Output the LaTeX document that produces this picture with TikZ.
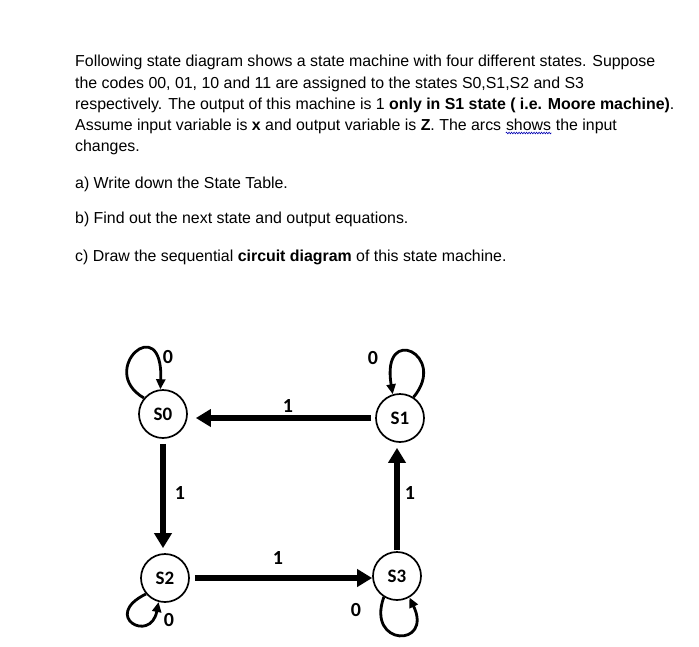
\documentclass[tikz,border=0pt]{standalone}
\usepackage{fontspec}
\setmainfont{Liberation Sans}
\newfontfamily\diafont{Carlito}
\usetikzlibrary{arrows.meta,decorations.pathmorphing}
\begin{document}
\begin{tikzpicture}[x=1pt,y=1pt,
  txt/.style={anchor=base west,inner sep=0pt,font=\fontsize{15.9}{18}\selectfont},
  state/.style={circle,draw,line width=1.7pt,minimum size=48pt,inner sep=0pt,font=\diafont\bfseries\fontsize{19}{21}\selectfont},
  lbl/.style={inner sep=0pt,font=\diafont\bfseries\fontsize{20}{22}\selectfont},
  bigarrow/.style={line width=6.2pt,-{Triangle[length=15pt,width=17pt]}},
  loopline/.style={line width=2.8pt,-{Triangle[length=10pt,width=9pt]}}]
\useasboundingbox (0,0) rectangle (699,-646);
% text
\node[txt] (l1) at (75,-66) {Following state diagram shows a state machine with four different states. Suppose};
\node[txt] (l2) at (75,-88) {the codes 00, 01, 10 and 11 are assigned to the states S0,S1,S2 and S3};
\node[txt] (l3) at (75,-109) {respectively. The output of this machine is 1 \textbf{only in S1 state ( i.e. Moore machine)}.};
\node[txt] (l4a) at (75,-130) {Assume input variable is \textbf{x} and output variable is \textbf{Z}. The arcs\ \mbox{}};
\node[txt] (l4b) at (l4a.base east) {shows};
\node[txt] (l4c) at (l4b.base east) {\ the input};
\node[txt] (l5) at (75,-151) {changes.};
\node[txt] (qa) at (75,-188) {a) Write down the State Table.};
\node[txt] (qb) at (75,-223) {b) Find out the next state and output equations.};
\node[txt] (qc) at (75,-261) {c) Draw the sequential \textbf{circuit diagram} of this state machine.};
\draw[blue!70!black,line width=0.6pt,decorate,decoration={snake,amplitude=0.8pt,segment length=2.5pt}]
  ([yshift=-3pt]l4b.base west) -- ([yshift=-3pt]l4b.base east);
% states
\node[state] (S0) at (163,-414) {S0};
\node[state] (S1) at (400,-418) {S1};
\node[state] (S2) at (165,-578) {S2};
\node[state] (S3) at (397,-576) {S3};
% transitions
\draw[bigarrow,shorten <=4pt,shorten >=8pt] (S1.west) -- (S0.east |- S1.west);
\draw[bigarrow,shorten <=5pt,shorten >=5pt] (S0.south) -- (S2.north -| S0.south);
\draw[bigarrow,shorten <=5pt] (S2.east) -- (S3.west |- S2.east);
\draw[bigarrow,shorten <=1pt,shorten >=5pt] (S3.north) -- (S1.south -| S3.north);
% loops
\draw[loopline] (S0.140) .. controls +(-48,28) and +(3,80) .. (S0.96);
\draw[loopline] (S1.57) .. controls +(35,42) and +(-12,72) .. (S1.107);
\draw[loopline] (S2.220) .. controls +(-45,-22) and +(-8,-42) .. (S2.-105);
\draw[loopline] (S3.238) .. controls +(-18,-50) and +(24,-50) .. (S3.-60);
% labels
\node[lbl] (t01) at (288,-406) {1};
\node[lbl] (t02) at (180,-493) {1};
\node[lbl] (t23) at (278,-558) {1};
\node[lbl] (t31) at (410,-493) {1};
\node[lbl] (t00) at (168,-357) {0};
\node[lbl] (t11) at (373,-358) {0};
\node[lbl] (t22) at (169,-620) {0};
\node[lbl] (t33) at (356,-610) {0};
\end{tikzpicture}
\end{document}
